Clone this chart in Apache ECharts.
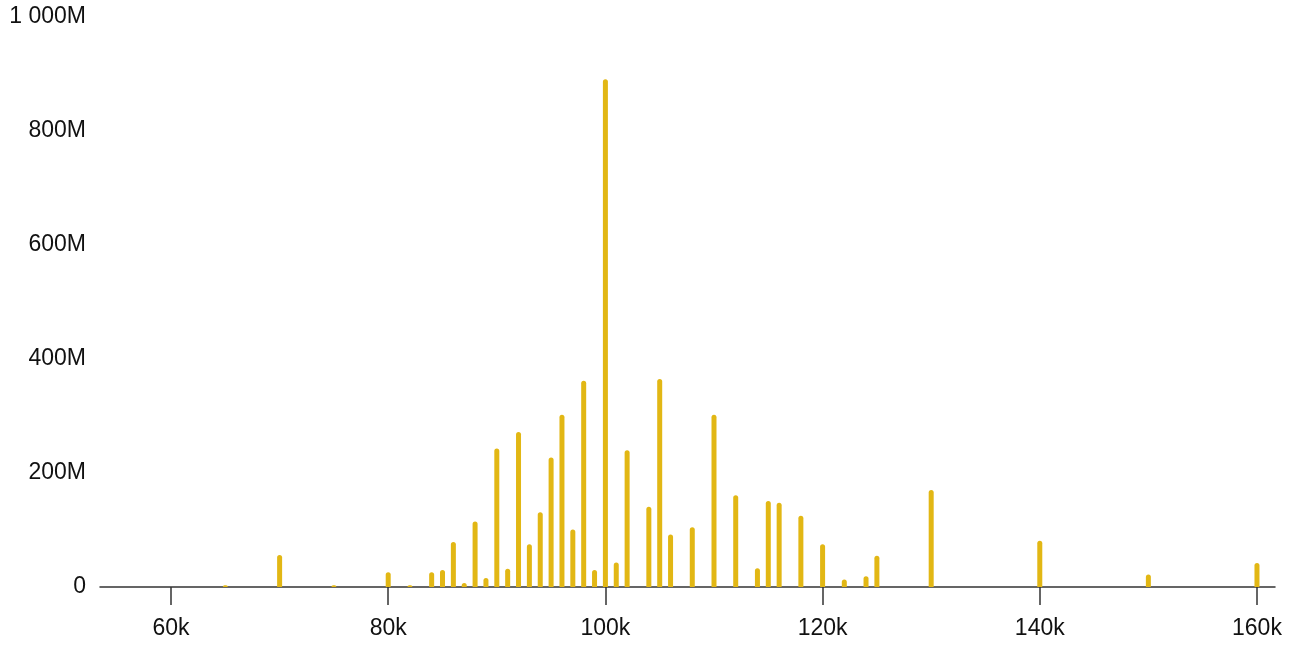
<!DOCTYPE html>
<html>
<head>
<meta charset="utf-8">
<script src="https://cdn.jsdelivr.net/npm/echarts@6/dist/echarts.min.js"></script>
<style>html,body{margin:0;padding:0;background:#fff;}#c{width:1293px;height:653px;}</style>
</head>
<body>
<div id="c"></div>
<script>
// Strike prices (thousands USD)
var strikes = [65, 70, 75, 80, 82, 84, 85, 86, 87, 88, 89, 90, 91, 92, 93, 94, 95, 96, 97, 98, 99, 100, 101, 102, 104, 105, 106, 108, 110, 112, 114, 115, 116, 118, 120, 122, 124, 125, 130, 140, 150, 160];
// Values (millions)
var values  = [3, 56, 3, 26, 3, 26, 30, 79, 7, 115, 16, 243, 32, 272, 75, 131, 227, 302, 101, 362, 30, 891, 43, 240, 141, 365, 92, 105, 302, 161, 33, 151, 148, 125, 75, 13, 19, 55, 170, 81, 22, 42];
var xTicks = [60, 80, 100, 120, 140, 160];
var yTicks = [0, 200, 400, 600, 800, 1000];

var data = strikes.map(function (s, i) { return [s, values[i]]; });

var chart = echarts.init(document.getElementById('c'), null, {renderer: 'canvas'});
chart.setOption({
  animation: false,
  grid: {left: 100, right: 18, top: 17, bottom: 66},
  xAxis: {
    type: 'value',
    min: 53.46,
    max: 161.66,
    splitLine: {show: false},
    axisLine: {show: true, lineStyle: {color: '#333', width: 1.5}},
    axisTick: {show: true, length: 18, customValues: xTicks, lineStyle: {color: '#333', width: 1.5}},
    axisLabel: {
      customValues: xTicks,
      margin: 30,
      color: '#111',
      fontSize: 23,
      fontFamily: 'Liberation Sans, Arial, sans-serif',
      formatter: function (v) { return v + 'k'; }
    }
  },
  yAxis: {
    type: 'value',
    min: 0,
    max: 1000,
    interval: 200,
    splitLine: {show: false},
    axisLine: {show: false},
    axisTick: {show: false},
    axisLabel: {
      margin: 14,
      color: '#111',
      fontSize: 23,
      fontFamily: 'Liberation Sans, Arial, sans-serif',
      formatter: function (v) {
        return (v >= 1000 ? String(v).replace(/\B(?=(\d{3})+(?!\d))/g, ' ') : v) + (v === 0 ? '' : 'M');
      }
    }
  },
  series: [{
    type: 'bar',
    data: data,
    barWidth: 5,
    itemStyle: {color: '#E2B714', borderRadius: [2.5, 2.5, 0, 0]}
  }]
});
</script>
</body>
</html>
